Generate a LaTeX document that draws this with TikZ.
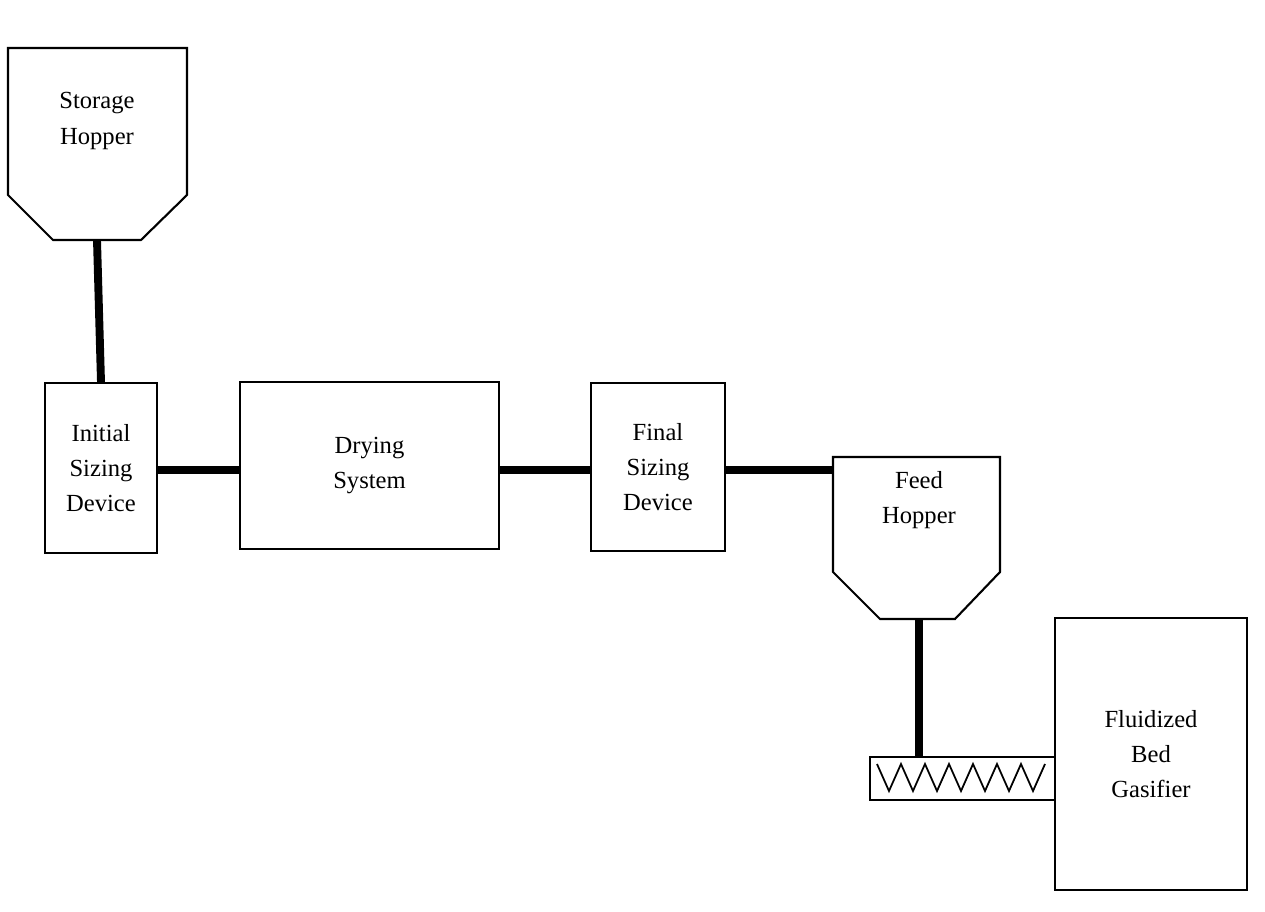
\documentclass[tikz,border=0pt]{standalone}
\usepackage{fontspec}
\setmainfont{Liberation Serif}
\begin{document}
\begin{tikzpicture}[x=0.02cm,y=-0.02cm,
  box/.style={draw,line width=1.2pt},
  lbl/.style={font=\fontsize{14pt}{20pt}\selectfont,align=center},
  pipe/.style={line width=4.5pt}]
\useasboundingbox (0,0) rectangle (1265,912);
% Storage hopper
\draw[box] (8,48) -- (187,48) -- (187,195) -- (141,240) -- (53,240) -- (8,195) -- cycle;
\node[lbl] (sh) at (97,121) {Storage\\Hopper};
\coordinate (shb) at (97,240);
% Initial sizing
\node[box,lbl,minimum width=112*0.02cm,minimum height=170*0.02cm] (isd) at (101,468) {Initial\\Sizing\\Device};
\node[box,lbl,minimum width=259*0.02cm,minimum height=167*0.02cm] (dry) at (369.5,465.5) {Drying\\System};
\node[box,lbl,minimum width=134*0.02cm,minimum height=168*0.02cm] (fsd) at (658,467) {Final\\Sizing\\Device};
% Feed hopper
\draw[box] (833,457) -- (1000,457) -- (1000,572) -- (955,619) -- (880,619) -- (833,572) -- cycle;
\node[lbl] (fh) at (919,500) {Feed\\Hopper};
\coordinate (fhl) at (833,470);
\coordinate (fhb) at (919,619);
% Screw
\node[box,minimum width=185*0.02cm,minimum height=43*0.02cm] (screw) at (962.5,778.5) {};
\draw[line width=1pt] (877,764) -- (889,791) -- (901,764) -- (913,791) -- (925,764) -- (937,791) -- (949,764) -- (961,791) -- (973,764) -- (985,791) -- (997,764) -- (1009,791) -- (1021,764) -- (1033,791) -- (1045,764);
% Gasifier
\node[box,lbl,minimum width=192*0.02cm,minimum height=272*0.02cm] (gas) at (1151,754) {Fluidized\\Bed\\Gasifier};
% pipes
\draw[pipe] (shb) -- (isd.north);
\draw[pipe] (isd.east |- 0,470) -- (dry.west |- 0,470);
\draw[pipe] (dry.east |- 0,470) -- (fsd.west |- 0,470);
\draw[pipe] (fsd.east |- 0,470) -- (fhl);
\draw[pipe] (fhb) -- (screw.north -| fhb);
\end{tikzpicture}
\end{document}
